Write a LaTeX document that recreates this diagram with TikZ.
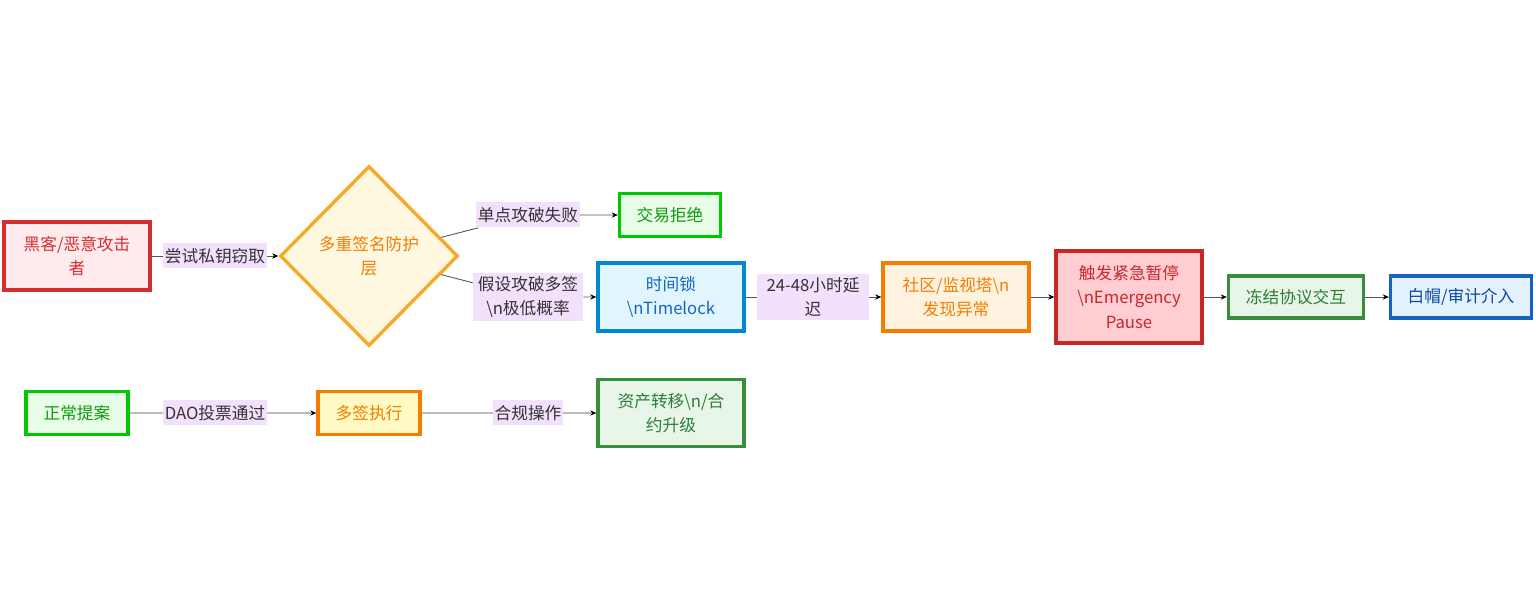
\documentclass[tikz,border=0pt]{standalone}
\usepackage{fontspec}
\setmainfont{Noto Sans CJK SC}
\usetikzlibrary{shapes.geometric,arrows.meta}

\definecolor{rougeB}{HTML}{D32F2F}
\definecolor{rougeF}{HTML}{FFEBEE}
\definecolor{ambreB}{HTML}{F9A825}
\definecolor{ambreF}{HTML}{FFF8E1}
\definecolor{orangeT}{HTML}{F57C00}
\definecolor{vertB}{HTML}{00C800}
\definecolor{vertF}{HTML}{E8FDE8}
\definecolor{vertT}{HTML}{119911}
\definecolor{bleuB}{HTML}{0288D1}
\definecolor{bleuF}{HTML}{E1F5FE}
\definecolor{bleuT}{HTML}{1565C0}
\definecolor{orangeF}{HTML}{FFF3E0}
\definecolor{pauseB}{HTML}{C62828}
\definecolor{pauseF}{HTML}{FFCDD2}
\definecolor{foretB}{HTML}{388E3C}
\definecolor{foretF}{HTML}{E8F5E9}
\definecolor{foretT}{HTML}{2E7D32}
\definecolor{marineB}{HTML}{1565C0}
\definecolor{marineF}{HTML}{E3F2FD}
\definecolor{marineT}{HTML}{0D47A1}
\definecolor{jauneF}{HTML}{FFF9C4}
\definecolor{lavande}{HTML}{F3E0FC}
\definecolor{gristexte}{HTML}{333333}
\definecolor{grislien}{HTML}{555555}
\definecolor{grisclair}{HTML}{BBBBBB}

\begin{document}
\begin{tikzpicture}[x=0.02cm,y=-0.02cm,font=\fontsize{9.5}{14}\selectfont,
  boite/.style={draw,line width=1.9pt,minimum width=2.92cm,minimum height=1.36cm,align=center,inner sep=2pt},
  etiq/.style={fill=lavande,text=gristexte,inner xsep=1pt,inner ysep=2pt,minimum height=0.5cm,align=center},
  lien/.style={->,>={Stealth[length=3.5pt,width=3pt,color=black]},draw=grislien,line width=0.5pt},
  lienclair/.style={lien,draw=grisclair,line width=1.1pt}]
\useasboundingbox (0,0) rectangle (1536,614);

%ligne de l'attaque
\node[boite,draw=rougeB,fill=rougeF,text=rougeB] (pirate) at (77,256) {黑客/恶意攻击\\者};
\node[diamond,draw=ambreB,fill=ambreF,text=orangeT,line width=1.9pt,minimum width=3.56cm,minimum height=3.6cm,inner sep=0pt,align=center] (multisig) at (369,256) {多重签名防护\\层};
\node[boite,draw=vertB,fill=vertF,text=vertT,minimum width=2.02cm,minimum height=0.86cm] (rejet) at (670,215) {交易拒绝};
\node[boite,draw=bleuB,fill=bleuF,text=bleuT] (verrou) at (671,297) {时间锁\\\textbackslash nTimelock};
\node[boite,draw=orangeT,fill=orangeF,text=orangeT] (communaute) at (956,297) {社区/监视塔\textbackslash n\\发现异常};
\node[boite,draw=pauseB,fill=pauseF,text=pauseB,minimum height=1.84cm] (pause) at (1129,297) {触发紧急暂停\\\textbackslash nEmergency\\Pause};
\node[boite,draw=foretB,fill=foretF,text=foretT,minimum width=2.7cm,minimum height=0.84cm] (gel) at (1296,297) {冻结协议交互};
\node[boite,draw=marineB,fill=marineF,text=marineT,minimum width=2.82cm,minimum height=0.84cm] (audit) at (1461,297) {白帽/审计介入};

%etiquettes
\node[etiq] (e1) at (215,256) {尝试私钥窃取};
\node[etiq] (e2) at (528,215) {单点攻破失败};
\node[etiq,minimum width=2.2cm] (e3) at (528,297) {假设攻破多签\\\textbackslash n极低概率};
\node[etiq,minimum width=2.24cm] (e4) at (813,297) {24-48小时延\\迟};

\draw[lien] (pirate) -- (e1) -- (multisig);
\draw[lien] (multisig) -- (e2) -- (rejet);
\draw[lien] (multisig) -- (e3) -- (verrou);
\draw[lien] (verrou) -- (e4) -- (communaute);
\draw[lien] (communaute) -- (pause);
\draw[lien] (pause) -- (gel);
\draw[lien] (gel) -- (audit);

%ligne normale
\node[boite,draw=vertB,fill=vertF,text=vertT,minimum width=2.04cm,minimum height=0.86cm] (proposition) at (77,413) {正常提案};
\node[boite,draw=orangeT,fill=jauneF,text=orangeT,minimum width=2.04cm,minimum height=0.86cm] (execution) at (369,413) {多签执行};
\node[boite,draw=foretB,fill=foretF,text=foretT,minimum height=1.34cm] (transfert) at (671,413) {资产转移\textbackslash n/合\\约升级};

\node[etiq] (e5) at (215,413) {DAO投票通过};
\node[etiq] (e6) at (528,413) {合规操作};

\draw[lienclair] (proposition) -- (e5) -- (execution);
\draw[lienclair] (execution) -- (e6) -- (transfert);

\end{tikzpicture}
\end{document}
